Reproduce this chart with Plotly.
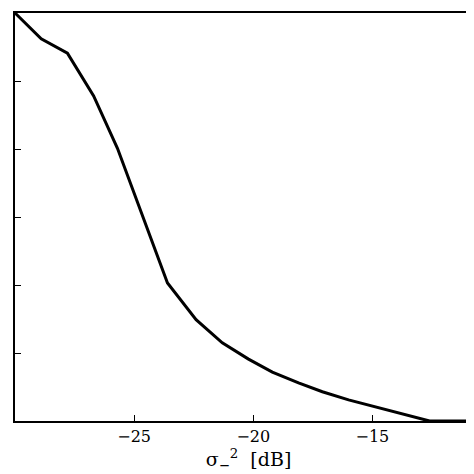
import plotly.graph_objects as go

x_db = [-30, -28.9, -27.8, -26.7, -25.7, -24.6, -23.6, -22.4, -21.3, -20.2, -19.2, -18.1, -17.1, -16.0, -15.0, -13.9, -13.0, -12.6, -10.4]
y_val = [6.0, 5.62, 5.41, 4.78, 4.01, 2.96, 2.03, 1.49, 1.15, 0.91, 0.72, 0.56, 0.43, 0.31, 0.22, 0.12, 0.03, 0.0, 0.0]
x_ticks = [-30, -25, -20, -15]
x_labels = ["−30", "−25", "−20", "−15"]

fig = go.Figure(go.Scatter(x=x_db, y=y_val, mode="lines", line=dict(color="black", width=3), cliponaxis=False))
ax = dict(showgrid=False, zeroline=False, mirror=True, showline=True, linecolor="black", linewidth=1.5,
          ticks="inside", ticklen=6, tickcolor="black", automargin=False)
fig.update_layout(
    width=474, height=474, margin=dict(l=7, r=0, t=5, b=61, autoexpand=False),
    plot_bgcolor="white", paper_bgcolor="white", showlegend=False,
    font=dict(family="DejaVu Serif", size=16, color="black"),
    xaxis=dict(range=[-30, -10.4], tickvals=x_ticks, ticktext=x_labels,
               title=dict(text="σ<sub>−</sub><sup>2</sup>  [dB]", standoff=4), **ax),
    yaxis=dict(range=[0, 6], tickvals=[0, 1, 2, 3, 4, 5, 6], showticklabels=False, **ax),
)
fig.write_html("out.html")
